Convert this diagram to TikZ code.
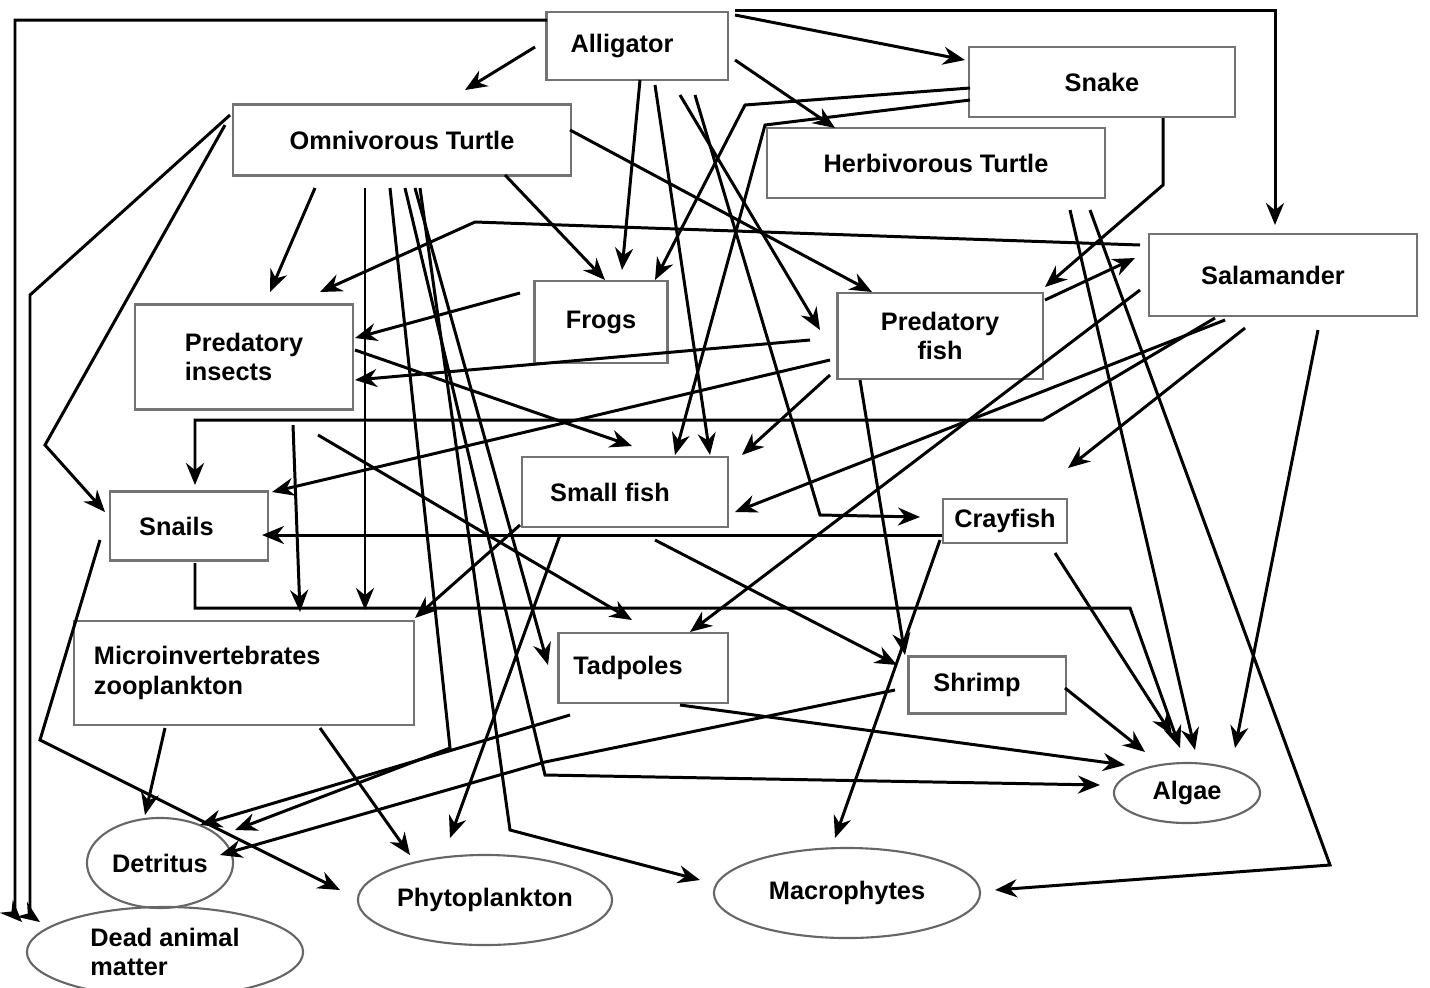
\documentclass[tikz,border=0pt]{standalone}
\usepackage{fontspec}
\setmainfont{Liberation Sans}
\usetikzlibrary{calc,arrows.meta,shapes.geometric}
\tikzset{
  box/.style={
    % plain grey frame
    shape=rectangle,draw=black!55,line width=0.6pt,
    inner sep=0pt,font=\fontsize{7.2}{8.3}\selectfont\bfseries},
  oval/.style={
    shape=ellipse,draw=black!60,line width=0.6pt,
    inner sep=0pt,font=\fontsize{7.2}{8.3}\selectfont\bfseries},
  arr/.style={
    line width=0.85pt,-{Stealth[length=2.2mm,width=1.8mm]}}}

\begin{document}
\begin{tikzpicture}[x=0.01cm,y=-0.01cm]
	\useasboundingbox (0,0) rectangle (1430,987);
	% Animals
	\node[box,minimum width=1.81cm,minimum height=0.68cm] (alli) at (637,46) {Alligator\hspace*{0.3cm}};
	\node[box,minimum width=2.65cm,minimum height=0.70cm] (snake) at (1102,82) {Snake};
	\node[box,minimum width=3.38cm,minimum height=0.71cm] (omni) at (402,140) {Omnivorous Turtle};
	\node[box,minimum width=3.38cm,minimum height=0.70cm] (herb) at (936,163) {Herbivorous Turtle};
	\node[box,minimum width=2.67cm,minimum height=0.82cm] (sala) at (1283,275) {Salamander\hspace*{0.2cm}};
	\node[box,minimum width=1.33cm,minimum height=0.82cm] (frogs) at (601,322) {Frogs};
	\node[box,minimum width=2.05cm,minimum height=0.86cm,align=center] (pfish) at (940,336) {Predatory\\fish};
	\node[box,minimum width=2.17cm,minimum height=1.05cm,align=left] (pins) at (244,357) {Predatory\\insects};
	\node[box,minimum width=2.06cm,minimum height=0.70cm] (sfish) at (625,492) {Small fish\hspace*{0.3cm}};
	\node[box,minimum width=1.58cm,minimum height=0.69cm] (snails) at (189,526) {Snails\hspace*{0.25cm}};
	\node[box,minimum width=1.24cm,minimum height=0.44cm] (cray) at (1005,521) {Crayfish};
	\node[box,minimum width=3.39cm,minimum height=1.04cm,text width=3.0cm,align=left] (micro) at (244,673) {Microinvertebrates\\zooplankton};
	\node[box,minimum width=1.69cm,minimum height=0.70cm] (tad) at (643,668) {Tadpoles\hspace*{0.3cm}};
	\node[box,minimum width=1.57cm,minimum height=0.57cm] (shrimp) at (987,685) {Shrimp\hspace*{0.2cm}};
	% Sinks
	\node[oval,minimum width=1.46cm,minimum height=0.60cm] (algae) at (1187,793) {Algae};
	\node[oval,minimum width=1.46cm,minimum height=0.90cm] (detr) at (160,863) {Detritus};
	\node[oval,minimum width=2.54cm,minimum height=0.90cm] (phyto) at (485,900) {Phytoplankton};
	\node[oval,minimum width=2.66cm,minimum height=0.90cm] (macro) at (847,893) {Macrophytes};
	\node[oval,minimum width=2.76cm,minimum height=0.90cm,align=left] (dead) at (165,952) {Dead animal\\matter\hspace*{0.62cm}};
	% Lines out of alli
	\draw[arr] ($(alli)+(-102,1)$) -- ($(omni)+(63,-50)$);
	\draw[arr] ($(alli)+(-90,-26)$) -- (15,20) -- (15,915) -- ($(dead)+(-143,-30)$);
	\draw[arr] ($(alli)+(98,-31)$) -- ($(snake)+(-137,-22)$);
	\draw[arr] ($(alli)+(98,-36)$) -- (1275,10) -- ($(sala)+(-8,-50)$);
	\draw[arr] ($(alli)+(98,14)$) -- ($(herb)+(-101,-35)$);
	\draw[arr] ($(alli)+(3,34)$) -- ($(frogs)+(21,-52)$);
	\draw[arr] ($(alli)+(18,39)$) -- ($(sfish)+(85,-37)$);
	\draw[arr] ($(alli)+(43,49)$) -- ($(pfish)+(-120,-6)$);
	\draw[arr] ($(alli)+(58,49)$) -- (820,515) -- ($(cray)+(-85,-4)$);
	% Lines out of snake
	\draw[arr] ($(snake)+(-132,6)$) -- (745,105) -- ($(frogs)+(54,-42)$);
	\draw[arr] ($(snake)+(-132,18)$) -- (765,125) -- ($(sfish)+(50,-37)$);
	\draw[arr] ($(snake)+(61,36)$) -- (1163,185) -- ($(pfish)+(105,-49)$);
	% Lines out of omni
	\draw[arr] ($(omni)+(-87,48)$) -- ($(pins)+(26,-65)$);
	\draw[arr] ($(omni)+(103,35)$) -- ($(frogs)+(4,-42)$);
	\draw[arr] ($(omni)+(168,-10)$) -- ($(pfish)+(-68,-44)$);
	\draw[arr] ($(omni)+(-37,48)$) -- ($(micro)+(121,-63)$);
	\draw[arr] ($(omni)+(13,48)$) -- ($(tad)+(-95,-3)$);
	\draw[arr] ($(omni)+(3,48)$) -- (545,775) -- ($(algae)+(-87,-8)$);
	\draw[arr] ($(omni)+(18,48)$) -- (510,830) -- ($(macro)+(-147,-13)$);
	\draw[arr] ($(omni)+(-12,48)$) -- (450,748) -- ($(detr)+(75,-33)$);
	\draw[arr] ($(omni)+(-172,-25)$) -- (30,295) -- (30,915) -- ($(dead)+(-125,-30)$);
	\draw[arr] ($(omni)+(-177,-15)$) -- (45,445) -- ($(snails)+(-84,-14)$);
	% Lines out of sala
	\draw[arr] ($(sala)+(-143,-30)$) -- (475,222) -- ($(pins)+(76,-65)$);
	\draw[arr] ($(sala)+(-68,43)$) -- (1043,420) -- (195,420) -- ($(snails)+(6,-41)$);
	\draw[arr] ($(sala)+(-58,45)$) -- ($(sfish)+(110,20)$);
	\draw[arr] ($(sala)+(-143,15)$) -- ($(tad)+(47,-36)$);
	\draw[arr] ($(sala)+(-38,53)$) -- ($(cray)+(63,-53)$);
	\draw[arr] ($(sala)+(35,55)$) -- ($(algae)+(48,-45)$);
	% Lines out of herb
	\draw[arr] ($(herb)+(134,47)$) -- ($(algae)+(8,-43)$);
	\draw[arr] ($(herb)+(154,47)$) -- (1330,865) -- ($(macro)+(148,-3)$);
	% Lines out of frogs and pfish
	\draw[arr] ($(frogs)+(-81,-29)$) -- ($(pins)+(111,-19)$);
	\draw[arr] ($(pfish)+(-130,4)$) -- ($(pins)+(111,23)$);
	\draw[arr] ($(pfish)+(105,-36)$) -- ($(sala)+(-148,-17)$);
	\draw[arr] ($(pfish)+(-110,24)$) -- ($(snails)+(83,-34)$);
	\draw[arr] ($(pfish)+(-110,39)$) -- ($(sfish)+(117,-37)$);
	\draw[arr] ($(pfish)+(-80,44)$) -- ($(shrimp)+(-82,-30)$);
	% Lines out of pins
	\draw[arr] ($(pins)+(111,-7)$) -- ($(sfish)+(7,-46)$);
	\draw[arr] ($(pins)+(49,68)$) -- ($(micro)+(56,-61)$);
	\draw[arr] ($(pins)+(74,78)$) -- ($(tad)+(-11,-48)$);
	% Lines out of cray and snails
	\draw[arr] ($(cray)+(-65,19)$) -- ($(macro)+(-12,-55)$);
	\draw[arr] ($(cray)+(-63,14)$) -- ($(snails)+(73,9)$);
	\draw[arr] ($(cray)+(50,32)$) -- ($(algae)+(-15,-58)$);
	\draw[arr] ($(snails)+(6,37)$) -- (195,608) -- (1130,608) -- ($(algae)+(-7,-45)$);
	\draw[arr] ($(snails)+(-89,14)$) -- (40,740) -- ($(phyto)+(-145,-10)$);
	% Lines out of sfish
	\draw[arr] ($(sfish)+(-105,33)$) -- ($(micro)+(171,-55)$);
	\draw[arr] ($(sfish)+(-65,43)$) -- ($(phyto)+(-35,-62)$);
	\draw[arr] ($(sfish)+(30,48)$) -- ($(shrimp)+(-90,-20)$);
	% Lines out of micro, tad and shrimp
	\draw[arr] ($(micro)+(-79,55)$) -- ($(detr)+(-15,-48)$);
	\draw[arr] ($(micro)+(76,55)$) -- ($(phyto)+(-75,-45)$);
	\draw[arr] ($(tad)+(37,37)$) -- ($(algae)+(-62,-28)$);
	\draw[arr] ($(tad)+(-73,47)$) -- ($(detr)+(40,-38)$);
	\draw[arr] ($(shrimp)+(-92,5)$) -- (545,762) -- ($(detr)+(60,-8)$);
	\draw[arr] ($(shrimp)+(78,3)$) -- ($(algae)+(-42,-41)$);
\end{tikzpicture}
\end{document}
